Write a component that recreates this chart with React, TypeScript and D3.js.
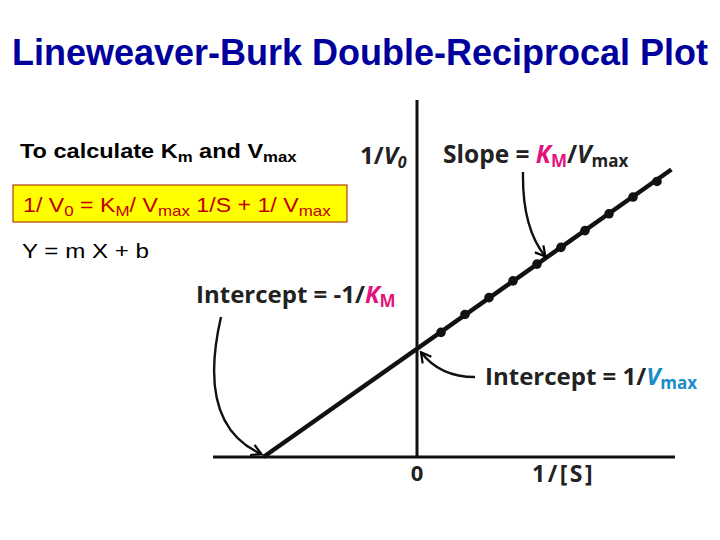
import React from "react";
import * as d3 from "d3";

// reciprocal substrate concentrations (1/[S]) of the measured points
const invS = [1, 2, 3, 4, 5, 6, 7, 8, 9, 10];
// measured 1/V0 for each point
const invV0 = [5.2, 5.95, 6.65, 7.35, 8.05, 8.75, 9.45, 10.15, 10.85, 11.5];
// fitted line end points (x intercept = -1/Km, far right end)
const fitX = [-6.4, 10.6];
const fitY = [0, 12.0];

const W = 720;
const H = 540;

const font = "'Liberation Sans', Arial, sans-serif";
const figFont = "'Open Sans', 'Noto Sans', sans-serif";
const pink = "#e2137d";
const blue = "#1a8cc6";

const App: React.FC = () => {
  const x = d3.scaleLinear().domain([-8.5, 10.75]).range([213, 675]);
  const y = d3.scaleLinear().domain([0, 14.9]).range([457, 100]);

  const fit = d3.line<number>()
    .x((_, i) => x(fitX[i]))
    .y((d) => y(d))(fitY) ?? "";

  return (
    <svg width={W} height={H} style={{ position: "absolute", left: 0, top: 0, background: "#fff" }}>
      <defs>
        <marker id="head" viewBox="0 0 12 12" refX="10" refY="6" markerWidth="5.5" markerHeight="5.5" orient="auto" markerUnits="strokeWidth">
          <path d="M1,1 L10,6 L1,11" fill="none" stroke="#000" strokeWidth={2} />
        </marker>
      </defs>

      {/* title */}
      <text x={360} y={65} textAnchor="middle" fontFamily={font} fontWeight="bold" fontSize={36}
        fill="#00009c" textLength={696} lengthAdjust="spacingAndGlyphs">
        Lineweaver-Burk Double-Reciprocal Plot
      </text>

      {/* left hand notes (slide text is a little stretched sideways) */}
      <g transform="translate(20,158) scale(1.12,1)">
        <text x={0} y={0} fontFamily={font} fontWeight="bold" fontSize={21} fill="#000">
          To calculate K<tspan fontSize={15} dy={4}>m</tspan><tspan dy={-4}> and V</tspan>
          <tspan fontSize={15} dy={4}>max</tspan>
        </text>
      </g>
      <rect x={13} y={185} width={334} height={37} fill="#ffff00" stroke="#b04010" strokeWidth={1.2} />
      <g transform="translate(23,212) scale(1.13,1)">
        <text x={0} y={0} fontFamily={font} fontSize={20.5} fill="#c00000">
          1/ V<tspan fontSize={15} dy={4}>0</tspan>
          <tspan dy={-4}> = K</tspan><tspan fontSize={15} dy={4}>M</tspan>
          <tspan dy={-4}>/ V</tspan><tspan fontSize={15} dy={4}>max</tspan>
          <tspan dy={-4}> 1/S + 1/ V</tspan><tspan fontSize={15} dy={4}>max</tspan>
        </text>
      </g>
      <g transform="translate(22,258) scale(1.15,1)">
        <text x={0} y={0} fontFamily={font} fontSize={21} fill="#000">Y = m X + b</text>
      </g>

      {/* axes */}
      <line x1={x.range()[0]} x2={x.range()[1]} y1={y(0)} y2={y(0)} stroke="#111" strokeWidth={3} />
      <line x1={x(0)} x2={x(0)} y1={y.range()[0]} y2={y.range()[1]} stroke="#111" strokeWidth={3} />

      {/* fitted line and points */}
      <path d={fit} fill="none" stroke="#111" strokeWidth={4.5} />
      {invS.map((s, i) => (
        <circle key={i} cx={x(s)} cy={y(invV0[i])} r={4.8} fill="#111" />
      ))}

      {/* axis labels */}
      <text x={x(0)} y={481} textAnchor="middle" fontFamily={figFont} fontWeight="bold" fontSize={22} fill="#222">0</text>
      <text x={532} y={482} fontFamily={figFont} fontWeight="bold" fontSize={23} letterSpacing={2.5} fill="#222">1/[S]</text>
      <text x={360} y={164} fontFamily={figFont} fontWeight="bold" fontSize={24} fill="#222">
        1/<tspan fontStyle="italic">V</tspan><tspan fontStyle="italic" fontSize={16} dy={4}>0</tspan>
      </text>

      {/* annotations */}
      <text x={443} y={163} fontFamily={figFont} fontWeight="bold" fontSize={24.5} fill="#222">
        Slope = <tspan fill={pink} fontStyle="italic">K</tspan>
        <tspan fill={pink} fontSize={17} dy={4}>M</tspan>
        <tspan dy={-4}>/</tspan><tspan fontStyle="italic">V</tspan>
        <tspan fontSize={17} dy={4}>max</tspan>
      </text>
      <path d={`M523,172 Q522,228 ${x(5.35)},${y(8.2) - 4}`} fill="none" stroke="#111" strokeWidth={2.4} markerEnd="url(#head)" />

      <text x={196} y={303} fontFamily={figFont} fontWeight="bold" fontSize={24} fill="#222">
        Intercept = -1/<tspan fill={pink} fontStyle="italic">K</tspan>
        <tspan fill={pink} fontSize={17} dy={4}>M</tspan>
      </text>
      <path d={`M221,317 Q196,425 ${x(fitX[0]) - 2},${y(0) - 3}`} fill="none" stroke="#111" strokeWidth={2.4} markerEnd="url(#head)" />

      <text x={485} y={385} fontFamily={figFont} fontWeight="bold" fontSize={24} fill="#222">
        Intercept = 1/<tspan fill={blue} fontStyle="italic">V</tspan>
        <tspan fill={blue} fontSize={17} dy={4}>max</tspan>
      </text>
      <path d={`M475,377 Q440,377 ${x(0) + 4},${y(4.5) + 3}`} fill="none" stroke="#111" strokeWidth={2.4} markerEnd="url(#head)" />
    </svg>
  );
};

export default App;
